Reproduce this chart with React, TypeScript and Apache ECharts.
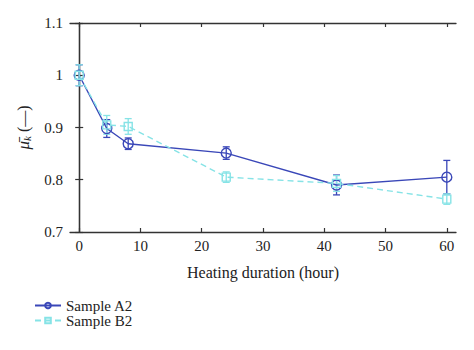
import React, { useEffect, useRef } from "react";
import * as echarts from "echarts";

const a2Hours = [0, 4.5, 8, 24, 42, 60];
const a2Values = [1.0, 0.898, 0.869, 0.851, 0.79, 0.805];
const a2Errors = [0.02, 0.017, 0.011, 0.012, 0.019, 0.032];

const b2Hours = [0, 4.5, 8, 24, 42, 60];
const b2Values = [1.0, 0.905, 0.902, 0.805, 0.793, 0.763];
const b2Errors = [0.02, 0.018, 0.015, 0.01, 0.015, 0.01];

const xTicks = [0, 10, 20, 30, 40, 50, 60];

const BLUE = "#3a47b8";
const CYAN = "#86e3e6";
const AXIS = "#333333";
const FONT = "Liberation Serif";
const FS = 15;

function errorSeries(name: string, xs: number[], ys: number[], es: number[], color: string) {
  return {
    type: "custom",
    name,
    data: xs.map((x, i) => [x, ys[i], es[i]]),
    z: 3,
    renderItem: (params: any, api: any) => {
      const x = api.value(0);
      const y = api.value(1);
      const e = api.value(2);
      const top = api.coord([x, y + e]);
      const bot = api.coord([x, y - e]);
      const hw = 3.5;
      const style = { stroke: color, lineWidth: 1.3 };
      return {
        type: "group",
        children: [
          { type: "line", shape: { x1: top[0], y1: top[1], x2: bot[0], y2: bot[1] }, style },
          { type: "line", shape: { x1: top[0] - hw, y1: top[1], x2: top[0] + hw, y2: top[1] }, style },
          { type: "line", shape: { x1: bot[0] - hw, y1: bot[1], x2: bot[0] + hw, y2: bot[1] }, style },
        ],
      };
    },
  };
}

export default function App() {
  const ref = useRef<HTMLDivElement>(null);
  useEffect(() => {
    const chart = echarts.init(ref.current!, null, { renderer: "svg" });
    const axisLine = { show: true, lineStyle: { color: AXIS, width: 1.3 } };
    const tick = { show: true, inside: true, length: 4, lineStyle: { color: AXIS, width: 1.2 } };
    const xCommon = {
      type: "value",
      min: -1.5,
      max: 61.5,
      splitLine: { show: false },
      axisLine,
    };
    const yCommon = {
      type: "value",
      min: 0.7,
      max: 1.1,
      interval: 0.1,
      splitLine: { show: false },
      axisLine,
      axisTick: tick,
    };
    chart.setOption({
      animation: false,
      backgroundColor: "#ffffff",
      textStyle: { fontFamily: FONT },
      grid: { left: 70, right: 18, top: 23, bottom: 118 },
      legend: {
        orient: "vertical",
        left: 29,
        top: 293,
        itemWidth: 26,
        itemHeight: 7,
        itemGap: 0,
        data: ["Sample A2", "Sample B2"],
        textStyle: { fontFamily: FONT, fontSize: FS, color: "#222" },
      },
      xAxis: [
        {
          ...xCommon,
          position: "bottom",
          name: "Heating duration (hour)",
          nameLocation: "middle",
          nameGap: 32,
          nameTextStyle: { fontFamily: FONT, fontSize: 16, color: "#222" },
          axisTick: { ...tick, customValues: xTicks },
          axisLabel: { customValues: xTicks, fontFamily: FONT, fontSize: FS, color: "#222", margin: 6 },
        },
        {
          ...xCommon,
          position: "top",
          axisTick: { ...tick, customValues: xTicks },
          axisLabel: { show: false, customValues: xTicks },
        },
      ],
      yAxis: [
        {
          ...yCommon,
          position: "left",
          name: "{mu|μ̄}{k|k}{p| (—)}",
          nameLocation: "middle",
          nameRotate: 90,
          nameGap: 38,
          nameTextStyle: {
            fontFamily: FONT,
            fontSize: FS,
            color: "#222",
            rich: {
              mu: { fontFamily: FONT, fontSize: 17, fontStyle: "italic", color: "#222" },
              k: { fontFamily: FONT, fontSize: 11, fontStyle: "italic", color: "#222", padding: [7, 0, 0, 0] },
              p: { fontFamily: FONT, fontSize: 16, color: "#222" },
            },
          },
          axisLabel: { fontFamily: FONT, fontSize: FS, color: "#222", margin: 7 },
        },
        {
          ...yCommon,
          position: "right",
          axisLabel: { show: false },
        },
      ],
      series: [
        errorSeries("errA2", a2Hours, a2Values, a2Errors, BLUE),
        {
          type: "line",
          name: "Sample A2",
          data: a2Hours.map((x, i) => [x, a2Values[i]]),
          symbol: "circle",
          symbolSize: 10,
          z: 4,
          lineStyle: { color: BLUE, width: 1.4 },
          itemStyle: { color: "rgba(255,255,255,0)", borderColor: BLUE, borderWidth: 1.4 },
        },
        errorSeries("errB2", b2Hours, b2Values, b2Errors, CYAN),
        {
          type: "line",
          name: "Sample B2",
          data: b2Hours.map((x, i) => [x, b2Values[i]]),
          symbol: "rect",
          symbolSize: 8,
          z: 5,
          lineStyle: { color: CYAN, width: 1.4, type: [6, 4] },
          itemStyle: { color: "rgba(255,255,255,0)", borderColor: CYAN, borderWidth: 1.4 },
        },
      ],
    });
    return () => chart.dispose();
  }, []);
  return <div ref={ref} style={{ width: 474, height: 350, margin: -8 }} />;
}
